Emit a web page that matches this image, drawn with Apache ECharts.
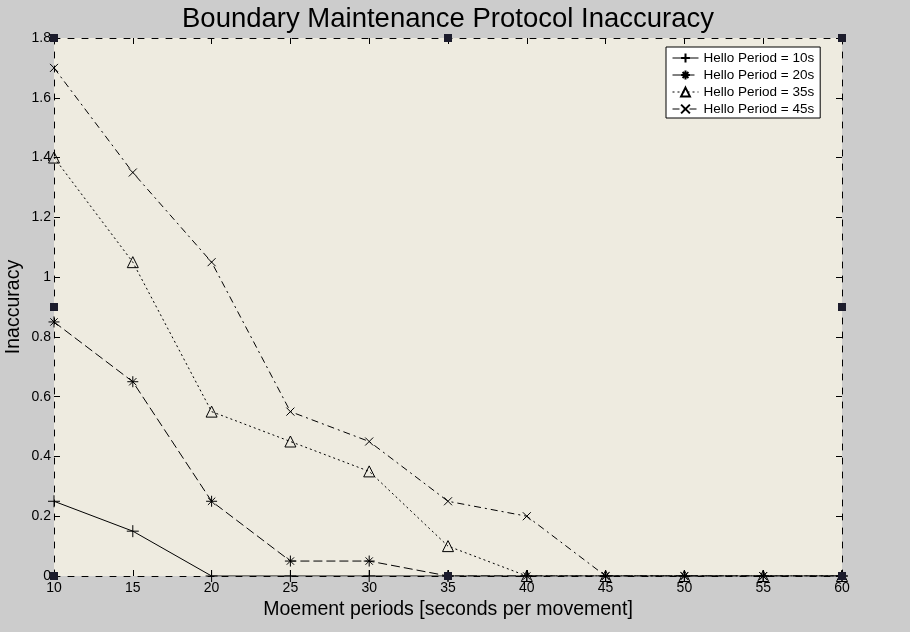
<!DOCTYPE html>
<html><head><meta charset="utf-8">
<script src="https://cdn.jsdelivr.net/npm/echarts@6/dist/echarts.min.js"></script>
<style>html,body{margin:0;padding:0;background:#cccccc}#c{width:910px;height:632px}</style>
</head><body><div id="c"></div>
<script>
const periods = [10, 15, 20, 25, 30, 35, 40, 45, 50, 55, 60];
const hello10 = [0.25, 0.15, 0, 0, 0, 0, 0, 0, 0, 0, 0];
const hello20 = [0.85, 0.65, 0.25, 0.05, 0.05, 0, 0, 0, 0, 0, 0];
const hello35 = [1.4, 1.05, 0.55, 0.45, 0.35, 0.1, 0, 0, 0, 0, 0];
const hello45 = [1.7, 1.35, 1.05, 0.55, 0.45, 0.25, 0.2, 0, 0, 0, 0];
const seriesNames = ['Hello Period = 10s', 'Hello Period = 20s', 'Hello Period = 35s', 'Hello Period = 45s'];
const handleX = [10, 10, 10, 35, 60, 60, 60, 35];
const handleY = [0, 0.9, 1.8, 1.8, 1.8, 0.9, 0, 0];

const PLUS = 'path://M0,-6L0,6M-6,0L6,0';
const STAR = 'path://M0,-6L0,6M-6,0L6,0M-4,-4L4,4M-4,4L4,-4';
const XMARK = 'path://M-4,-4L4,4M-4,4L4,-4';
const TRI = 'path://M0,-6L6,5L-6,5Z';
const FONT = 'Liberation Sans, Arial';

function pairs(ys){ return periods.map((x,i)=>[x, ys[i]]); }
function mk(name, ys, sym, size, dash){
  return {
    name, type:'line', data:pairs(ys), symbol:sym, symbolSize:size, showAllSymbol:true,
    lineStyle:{color:'#000', width:1, type:dash},
    itemStyle:{color:'none', borderColor:'#000', borderWidth:1},
    emphasis:{disabled:true}, animation:false, z:3
  };
}
const chart = echarts.init(document.getElementById('c'));
const axisCommon = {
  axisLine:{show:true, onZero:false, lineStyle:{color:'#000', width:1, type:[6,8]}},
  axisTick:{show:true, inside:true, length:6, lineStyle:{color:'#000'}},
  splitLine:{show:false}
};
chart.setOption({
  backgroundColor:'#cccccc',
  animation:false,
  title:{text:'Boundary Maintenance Protocol Inaccuracy', left:177, top:0,
    textStyle:{fontFamily:FONT, fontSize:27.5, fontWeight:'normal', color:'#000'}},
  grid:{left:54, right:68, top:38, bottom:56, show:true, backgroundColor:'#eeebe0', borderWidth:0,
    outerBoundsMode:'none', containLabel:false},
  legend:{orient:'vertical', left:666, top:47, data:seriesNames,
    backgroundColor:'#fff', borderColor:'#000', borderWidth:1, padding:[4,6,2,6],
    itemWidth:26, itemHeight:11, itemGap:3,
    lineStyle:{width:1},
    textStyle:{fontFamily:FONT, fontSize:13.5, color:'#000'}},
  xAxis:[
    Object.assign({type:'value', min:10, max:60, interval:5, position:'bottom',
      name:'Moement periods [seconds per movement]', nameLocation:'middle', nameGap:24, nameMoveOverlap:false,
      nameTextStyle:{fontFamily:FONT, fontSize:19.5, color:'#000'},
      axisLabel:{color:'#000', fontFamily:FONT, fontSize:14, margin:5}}, axisCommon),
    Object.assign({type:'value', min:10, max:60, interval:5, position:'top', axisLabel:{show:false}}, axisCommon)
  ],
  yAxis:[
    Object.assign({type:'value', min:0, max:1.8, interval:0.2, position:'left',
      name:'Inaccuracy', nameLocation:'middle', nameGap:30, nameRotate:90, nameMoveOverlap:false,
      nameTextStyle:{fontFamily:FONT, fontSize:19.5, color:'#000'},
      axisLabel:{color:'#000', fontFamily:FONT, fontSize:14, margin:3}}, axisCommon),
    Object.assign({type:'value', min:0, max:1.8, interval:0.2, position:'right', axisLabel:{show:false}}, axisCommon)
  ],
  series:[
    mk(seriesNames[0], hello10, PLUS, 12, 'solid'),
    mk(seriesNames[1], hello20, STAR, 11, [9,4]),
    mk(seriesNames[2], hello35, TRI, 11, [2,3]),
    mk(seriesNames[3], hello45, XMARK, 8, [7,4,2,4]),
    {type:'scatter', name:'handles', data:handleX.map((x,i)=>[x, handleY[i]]), symbol:'rect', symbolSize:8,
      itemStyle:{color:'#1c1c2c', opacity:1}, z:5, silent:true, animation:false}
  ]
});
</script></body></html>
